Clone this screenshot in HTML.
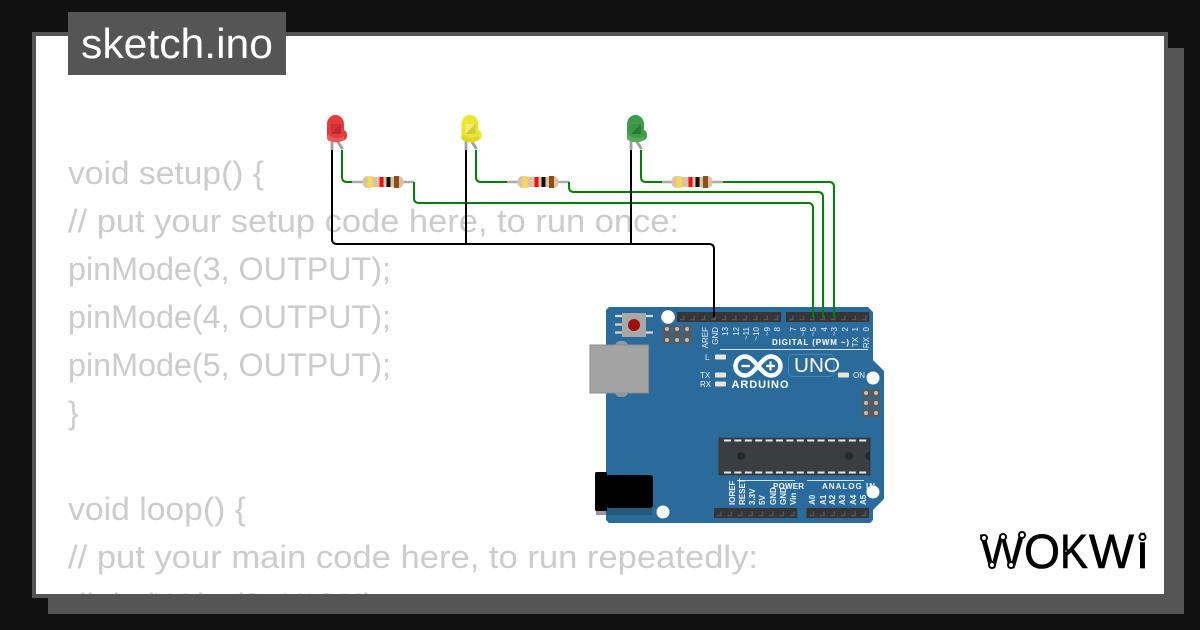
<!DOCTYPE html>
<html><head><meta charset="utf-8"><style>
html,body{margin:0;padding:0;background:#111;width:1200px;height:630px;overflow:hidden}
svg{display:block;font-family:"Liberation Sans",sans-serif}
</style></head><body>
<svg width="1200" height="630" viewBox="0 0 1200 630" xmlns="http://www.w3.org/2000/svg">
<defs>
<clipPath id="c"><rect x="36" y="36" width="1128" height="558"/></clipPath>
<g id="led-base"><path d="M332 141V150M338 142L342.500 149" stroke="#a0a0a0" stroke-width="2.800" fill="none"/></g>
<g id="res">
<path d="M352 182H414" stroke="#aaa" stroke-width="2.400"/>
<rect x="362.500" y="176" width="11" height="12" rx="5" fill="#dcc3a6"/>
<rect x="392.500" y="176" width="11" height="12" rx="5" fill="#dcc3a6"/>
<rect x="370" y="177" width="26" height="10" fill="#dcc3a6"/>
<rect x="367.500" y="176" width="5" height="12" fill="#f4d95c"/>
<rect x="379.500" y="177" width="4" height="10" fill="#f01010"/>
<rect x="386.500" y="177" width="4" height="10" fill="#111"/>
<rect x="394" y="176" width="5" height="12" fill="#8e4f16"/>
</g>
<g id="hdr10"><rect width="10.400" height="10" fill="#353535"/><path d="M3 7.500H7V3.500" stroke="#555" stroke-width="1.500" fill="none"/></g>
</defs>
<rect x="48" y="48" width="1136" height="566" fill="#555"/>
<rect x="34" y="34" width="1132" height="562" fill="#fff" stroke="#555" stroke-width="4"/>
<g clip-path="url(#c)" fill="#ccc" font-size="32">
<text x="68" y="184" textLength="196" lengthAdjust="spacingAndGlyphs">void setup() {</text>
<text x="68" y="232" textLength="611" lengthAdjust="spacingAndGlyphs">// put your setup code here, to run once:</text>
<text x="68" y="280" textLength="323" lengthAdjust="spacingAndGlyphs">pinMode(3, OUTPUT);</text>
<text x="68" y="328" textLength="323" lengthAdjust="spacingAndGlyphs">pinMode(4, OUTPUT);</text>
<text x="68" y="376" textLength="323" lengthAdjust="spacingAndGlyphs">pinMode(5, OUTPUT);</text>
<text x="68" y="424">}</text>
<text x="68" y="520" textLength="178" lengthAdjust="spacingAndGlyphs">void loop() {</text>
<text x="68" y="568" textLength="690" lengthAdjust="spacingAndGlyphs">// put your main code here, to run repeatedly:</text>
<text x="68" y="616" textLength="316" lengthAdjust="spacingAndGlyphs">digitalWrite(3, HIGH);</text>
</g>
<rect x="68" y="12" width="218" height="63" fill="#555"/>
<text x="81" y="58" font-size="42" fill="#fff" textLength="192" lengthAdjust="spacingAndGlyphs">sketch.ino</text>

<!-- Arduino board -->
<path d="M609 307H868L873 312V360L884 371V499L873 510V520L870 523H609L606 520V310Z" fill="#2b6b9b"/>
<rect x="606" y="508" width="46" height="7" fill="#25587d"/>
<!-- USB -->
<rect x="615" y="341" width="13" height="10" rx="5" fill="#8f9ba3"/><rect x="615" y="387" width="13" height="10" rx="5" fill="#8f9ba3"/>
<rect x="590" y="345" width="58.500" height="48" fill="#a3a3a3" stroke="#8c8c8c"/>
<!-- Jack -->
<rect x="595" y="472" width="12" height="39" rx="1.500" fill="#000"/>
<rect x="596" y="511" width="10" height="4" fill="#999"/>
<rect x="606" y="475" width="47" height="33" rx="3" fill="#000"/>
<!-- Reset -->
<path d="M615 316H622M615 324.500H622M615 332.500H622M646 316H653M646 332.500H653" stroke="#d8d8d8" stroke-width="2.200"/>
<rect x="622" y="313" width="24" height="24" fill="#a8a8a8"/>
<circle cx="634" cy="325" r="6" fill="#a10f0f"/>
<!-- holes -->
<g fill="#fff"><circle cx="668" cy="317" r="6.800"/><circle cx="873" cy="378" r="6.500"/><circle cx="873" cy="492" r="6.500"/><circle cx="663" cy="512" r="6.500"/></g>
<!-- ICSP -->
<g fill="#5a5a5a"><rect x="663" y="325" width="8" height="19"/><rect x="673" y="325" width="8" height="19"/><rect x="683" y="325" width="8" height="19"/></g>
<g fill="#bdbdbd"><circle cx="667" cy="329" r="2"/><circle cx="677" cy="329" r="2"/><circle cx="687" cy="329" r="2"/><circle cx="667" cy="340" r="2"/><circle cx="677" cy="340" r="2"/><circle cx="687" cy="340" r="2"/></g>
<g fill="#5a5a5a"><rect x="862" y="389" width="18" height="8"/><rect x="862" y="399" width="18" height="8"/><rect x="862" y="409" width="18" height="8"/></g>
<g fill="#bdbdbd"><circle cx="866" cy="393" r="2"/><circle cx="876" cy="393" r="2"/><circle cx="866" cy="403" r="2"/><circle cx="876" cy="403" r="2"/><circle cx="866" cy="413" r="2"/><circle cx="876" cy="413" r="2"/></g>
<!-- Headers -->
<g>
<use href="#hdr10" x="677" y="312"/><use href="#hdr10" x="687.400" y="312"/><use href="#hdr10" x="697.800" y="312"/><use href="#hdr10" x="708.200" y="312"/><use href="#hdr10" x="718.600" y="312"/><use href="#hdr10" x="729" y="312"/><use href="#hdr10" x="739.400" y="312"/><use href="#hdr10" x="749.800" y="312"/><use href="#hdr10" x="760.200" y="312"/><use href="#hdr10" x="770.600" y="312"/>
<use href="#hdr10" x="786" y="312"/><use href="#hdr10" x="796.400" y="312"/><use href="#hdr10" x="806.800" y="312"/><use href="#hdr10" x="817.200" y="312"/><use href="#hdr10" x="827.600" y="312"/><use href="#hdr10" x="838" y="312"/><use href="#hdr10" x="848.400" y="312"/><use href="#hdr10" x="858.800" y="312"/>
<use href="#hdr10" x="714" y="508"/><use href="#hdr10" x="724.400" y="508"/><use href="#hdr10" x="734.800" y="508"/><use href="#hdr10" x="745.200" y="508"/><use href="#hdr10" x="755.600" y="508"/><use href="#hdr10" x="766" y="508"/><use href="#hdr10" x="776.400" y="508"/><use href="#hdr10" x="786.800" y="508"/>
<use href="#hdr10" x="806.500" y="508"/><use href="#hdr10" x="816.900" y="508"/><use href="#hdr10" x="827.300" y="508"/><use href="#hdr10" x="837.700" y="508"/><use href="#hdr10" x="848.100" y="508"/><use href="#hdr10" x="858.500" y="508"/>
</g>
<!-- top pin labels -->
<g fill="#e8eef2" font-size="8" text-anchor="end">
<text transform="translate(708,327) rotate(-90)">AREF</text>
<text transform="translate(718,327) rotate(-90)">GND</text>
<text transform="translate(728,327) rotate(-90)">13</text>
<text transform="translate(739,327) rotate(-90)">12</text>
<text transform="translate(749,327) rotate(-90)">~11</text>
<text transform="translate(759,327) rotate(-90)">~10</text>
<text transform="translate(770,327) rotate(-90)">~9</text>
<text transform="translate(780,327) rotate(-90)">8</text>
<text transform="translate(796,327) rotate(-90)">7</text>
<text transform="translate(806,327) rotate(-90)">~6</text>
<text transform="translate(816,327) rotate(-90)">~5</text>
<text transform="translate(827,327) rotate(-90)">4</text>
<text transform="translate(837,327) rotate(-90)">~3</text>
<text transform="translate(848,327) rotate(-90)">2</text>
<text transform="translate(858,327) rotate(-90)">1</text>
<text transform="translate(869,327) rotate(-90)">0</text>
<text transform="translate(858,337) rotate(-90)">TX</text>
<text transform="translate(869,337) rotate(-90)">RX</text>
</g>
<text x="772" y="345" font-size="8" font-weight="bold" fill="#fff" textLength="77">DIGITAL (PWM ~)</text>
<path d="M720 349.500H868" stroke="#d5e2ec" stroke-width="1"/>
<!-- Arduino logo -->
<path d="M758 366C752 359 749 356.500 745 356.500A9.500 9.500 0 0 0 745 375.500C749 375.500 752 373 758 366C764 359 767 356.500 771 356.500A9.500 9.500 0 0 1 771 375.500C767 375.500 764 373 758 366Z" fill="none" stroke="#fff" stroke-width="4.500"/>
<path d="M741.500 366H750M766 366H775M770.500 361.500V370.500" stroke="#fff" stroke-width="2.200"/>
<text x="731.500" y="388" font-size="11" font-weight="bold" fill="#fff" textLength="57">ARDUINO</text>
<rect x="788.500" y="354.500" width="45" height="22" rx="4" fill="none" stroke="#4a86b0"/>
<text x="794" y="372" font-size="20.500" fill="#fff" textLength="46" lengthAdjust="spacingAndGlyphs">UNO</text>
<!-- small LEDs -->
<g fill="#e8e4d8">
<rect x="715" y="354.500" width="11" height="5" rx="1"/><rect x="715" y="372.500" width="11" height="5" rx="1"/><rect x="715" y="381.500" width="11" height="5" rx="1"/><rect x="838" y="372.500" width="11" height="5" rx="1"/>
</g>
<g fill="#e8eef2" font-size="8">
<text x="705" y="360">L</text><text x="700" y="378">TX</text><text x="700" y="387">RX</text><text x="853" y="378">ON</text>
</g>
<!-- chip -->
<rect x="719" y="438" width="151" height="37" fill="#3b3e41" stroke="#2a2c2e" stroke-width=".6"/>
<path d="M724 440.500H868M724 472.500H868" stroke="#e6e6e6" stroke-width="2" stroke-dasharray="7 3.400"/>
<g fill="#26282a"><circle cx="741" cy="456" r="4"/><circle cx="849" cy="456" r="4"/><path d="M870 451.500A4.500 4.500 0 0 0 870 460.500Z"/></g>
<!-- bottom labels -->
<path d="M737 480.500H795M807 480.500H864" stroke="#d5e2ec" stroke-width="1"/>
<g font-size="8" font-weight="bold" fill="#f0f4f7">
<text transform="translate(735,505) rotate(-90)">IOREF</text>
<text transform="translate(745,505) rotate(-90)">RESET</text>
<text transform="translate(755,505) rotate(-90)">3.3V</text>
<text transform="translate(765,505) rotate(-90)">5V</text>
<text transform="translate(776,505) rotate(-90)">GND</text>
<text transform="translate(786,505) rotate(-90)">GND</text>
<text transform="translate(796,505) rotate(-90)">Vin</text>
<text transform="translate(815,505) rotate(-90)">A0</text>
<text transform="translate(826,505) rotate(-90)">A1</text>
<text transform="translate(835,505) rotate(-90)">A2</text>
<text transform="translate(845,505) rotate(-90)">A3</text>
<text transform="translate(856,505) rotate(-90)">A4</text>
<text transform="translate(866,505) rotate(-90)">A5</text>
<text x="773" y="489" textLength="31">POWER</text>
<text x="822" y="489" textLength="53">ANALOG IN</text>
</g>

<!-- LEDs -->
<g>
<use href="#led-base"/><use href="#led-base" x="134"/><use href="#led-base" x="299"/>
<g>
<path d="M327 138V124A8.500 9 0 0 1 344 124V130Q347 131 347 135Q347 139 344.500 140Q337 144 330 141Q327 140 327 138Z" fill="#e63a3e"/>
<path d="M331 124H341V134H331Z" fill="#d42f33"/><path d="M336 129L341 124V134H331Z" fill="#bd2a2e"/>
<path d="M327 134Q336 141 344 136L344 140Q337 144 330 141Q327 140 327 138Z" fill="#f06a6d" opacity=".6"/>
</g>
<g>
<path d="M461.500 138V124A8.500 9 0 0 1 478.500 124V130Q481.500 131 481.500 135Q481.500 139 479 140Q471.500 144 464.500 141Q461.500 140 461.500 138Z" fill="#ebe630"/>
<path d="M465.500 124H475.500V134H465.500Z" fill="#efec70"/><path d="M470.500 129L475.500 124V134H465.500Z" fill="#cfcb3e"/>
<path d="M461.500 134Q470 141 478.500 136L479 140Q471.500 144 464.500 141Q461.500 140 461.500 138Z" fill="#d4d020" opacity=".7"/>
</g>
<g>
<path d="M627 138V124A8.500 9 0 0 1 644 124V130Q647 131 647 135Q647 139 644.500 140Q637 144 630 141Q627 140 627 138Z" fill="#3f9c48"/>
<path d="M631 124H641V134H631Z" fill="#3c9245"/><path d="M636 129L641 124V134H631Z" fill="#2a7a33"/>
<path d="M627 134Q636 141 644 136L644.500 140Q637 144 630 141Q627 140 627 138Z" fill="#70bb76" opacity=".5"/>
</g>
</g>
<!-- Resistors -->
<use href="#res"/>
<use href="#res" x="155"/>
<use href="#res" x="309"/>
<!-- Wires -->
<g fill="none" stroke-width="2" stroke="#008000">
<path d="M342 150V177Q342 182 347 182H352"/>
<path d="M476 150V177Q476 182 481 182H507"/>
<path d="M641 150V177Q641 182 646 182H662"/>
<path d="M414 182V198Q414 203 419 203H808Q813 203 813 208V317"/>
<path d="M569 182V187Q569 192 574 192H818Q823 192 823 197V317"/>
<path d="M723 182H829Q834 182 834 187V317"/>
</g>
<g fill="none" stroke-width="2" stroke="#000">
<path d="M332 150V239Q332 244 337 244H709Q714 244 714 249V317"/>
<path d="M466 150V244"/>
<path d="M631 150V244"/>
</g>
<!-- Logo -->
<g font-size="48" fill="#000" stroke="#000" stroke-width=".6">
<text x="980" y="568" textLength="44" lengthAdjust="spacingAndGlyphs">W</text>
<text x="1024" y="568" textLength="36" lengthAdjust="spacingAndGlyphs">O</text>
<text x="1060" y="568" textLength="28" lengthAdjust="spacingAndGlyphs">K</text>
<text x="1089" y="568" textLength="45" lengthAdjust="spacingAndGlyphs">W</text>
<text x="1137" y="568" textLength="11" lengthAdjust="spacingAndGlyphs">i</text>
</g>
<g fill="#fff" stroke="#000" stroke-width="2">
<circle cx="984" cy="538" r="3"/><circle cx="1003" cy="537" r="3"/><circle cx="1022" cy="535" r="3"/><circle cx="992" cy="565" r="3"/><circle cx="1011" cy="565" r="3"/><circle cx="1066" cy="551" r="1.800"/><circle cx="1142.500" cy="537" r="3"/>
</g>
</svg>
</body></html>
